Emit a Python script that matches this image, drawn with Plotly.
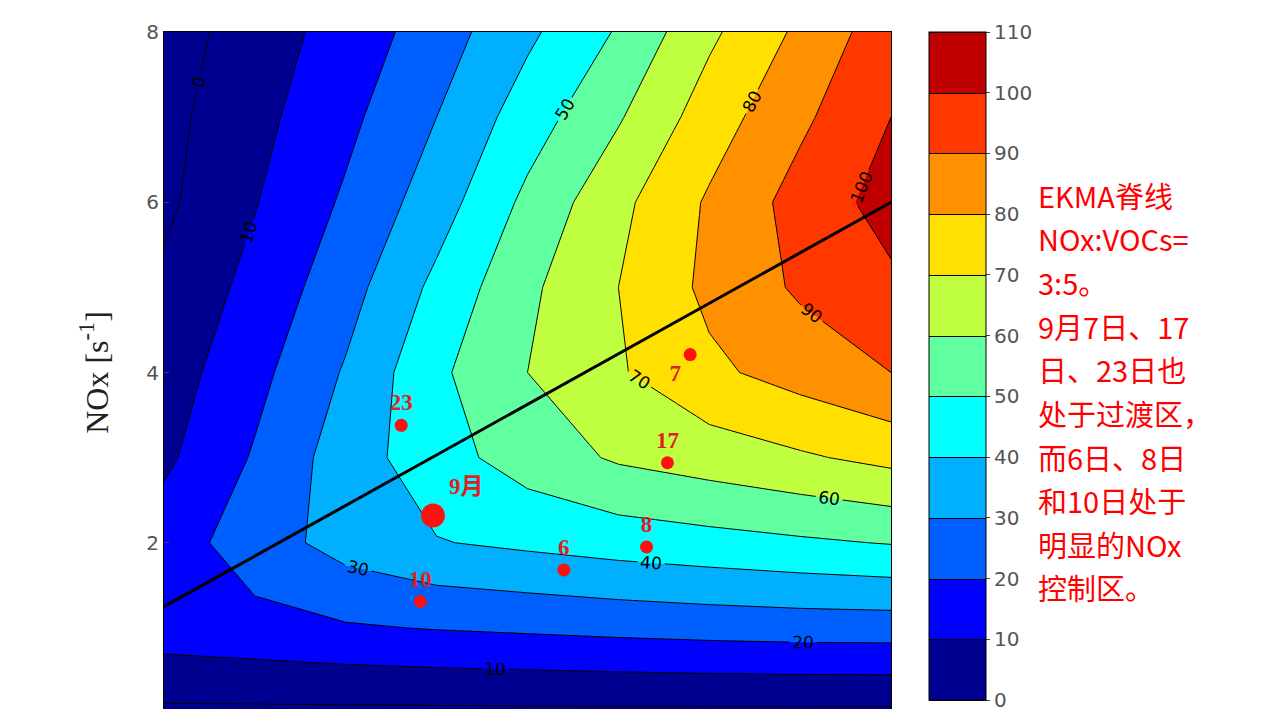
import plotly.graph_objects as go

voc = [0, 1, 2, 3, 4, 5, 6, 7, 8]
nox = [0, 1, 2, 3, 4, 5, 6, 7, 8]
o3 = [
    [-2, -2, -2, -2, -2, -2, -2, -2, -2],
    [15.3, 17, 19, 20.5, 21.6, 22.8, 23.8, 24.5, 24.7],
    [15, 25, 34, 39.5, 42, 44.5, 46.5, 48.5, 50.5],
    [8, 21, 35, 46, 54.6, 61.3, 64.9, 68.7, 72.8],
    [5, 17, 31, 48, 60, 69, 78, 84, 90],
    [2, 13, 26, 42.5, 58, 70, 82.3, 91.5, 98],
    [-2, 9.5, 21.4, 35.2, 52.4, 67.4, 81.3, 93.8, 104],
    [-3, 7, 17.5, 30, 45, 59, 75, 88, 100],
    [-5, 5, 14, 25, 38, 51, 68, 82, 96],
]
ridge_x = [0, 8]
ridge_y = [1.25, 6.0]
pt_x = [2.61, 2.82, 4.40, 5.31, 5.54, 5.79]
pt_y = [3.38, 1.31, 1.68, 1.95, 2.94, 4.21]
pt_lab = ["23", "10", "6", "8", "17", "7"]
sep_x = [2.96]
sep_y = [2.32]
sep_lab = ["9月"]
bins = ["#000090", "#0000FF", "#0060FF", "#00B0FF", "#00FFFF", "#60FFA0",
        "#C0FF40", "#FFE000", "#FF9000", "#FF3800", "#C00000"]
note_lines = ["EKMA脊线", "NOx:VOCs=", "3:5。", "9月7日、17", "日、23日也",
              "处于过渡区，", "而6日、8日", "和10日处于", "明显的NOx", "控制区。"]

cs = []
n = len(bins)
eps = 1e-6
for i, c in enumerate(bins):
    cs.append([i / n, c])
    cs.append([(i + 1) / n - (eps if i < n - 1 else 0), c])

fig = go.Figure()
fig.add_trace(go.Contour(
    x=voc, y=nox, z=o3, colorscale=cs, zmin=0, zmax=110,
    contours=dict(start=0, end=110, size=10, coloring="fill", showlabels=True,
                  labelfont=dict(size=17, color="black", family="DejaVu Sans")),
    line=dict(color="black", width=1, smoothing=0),
    colorbar=dict(x=1.052, xanchor="left", xpad=0, y=1.0, yanchor="top",
                  len=668, lenmode="pixels", ypad=0,
                  thickness=57, outlinecolor="black", outlinewidth=1,
                  tickvals=list(range(0, 111, 10)), ticks="outside", ticklen=4,
                  tickfont=dict(size=20, color="#555", family="DejaVu Sans")),
    hoverinfo="skip"))
fig.add_trace(go.Scatter(x=ridge_x, y=ridge_y, mode="lines",
                         line=dict(color="black", width=3), showlegend=False))
pos = ["top center", "top center", "top center", "top center", "top center", "bottom left"]
fig.add_trace(go.Scatter(x=pt_x, y=pt_y, mode="markers+text", text=["<b>%s</b>" % t for t in pt_lab],
                         textposition=pos,
                         textfont=dict(color="#E02020", size=23, family="Liberation Serif"),
                         marker=dict(color="#FF1010", size=13), showlegend=False))
fig.add_trace(go.Scatter(x=sep_x, y=sep_y, mode="markers+text", text=["<b>%s</b>" % t for t in sep_lab],
                         textposition="top right",
                         textfont=dict(color="#E02020", size=23, family="Liberation Serif, Noto Sans CJK SC"),
                         marker=dict(color="#FF1010", size=24), showlegend=False))
for i, t in enumerate(note_lines):
    fig.add_annotation(xref="paper", yref="y", x=1.2, xanchor="left",
                       y=(704 - (192 + i * 43.1)) / 84.1, yanchor="middle",
                       text=t, showarrow=False,
                       font=dict(color="#FF0000", size=29, family="Noto Sans CJK SC"))
fig.update_xaxes(range=[0, 8], showticklabels=False, ticks="", showgrid=False,
                 zeroline=False, showline=True, linecolor="black", mirror=True)
fig.update_yaxes(range=[0, 8], tickvals=[0, 2, 4, 6, 8], showgrid=False, zeroline=False,
                 showline=True, linecolor="black", mirror=True, ticks="inside",
                 tickfont=dict(size=20, color="#555", family="DejaVu Sans"),
                 title=dict(text="NOx [s<sup>-1</sup>]", standoff=28,
                            font=dict(size=32, family="Liberation Serif", color="#222")))
fig.update_layout(width=1261, height=709, margin=dict(l=156, r=378, t=24, b=4),
                  plot_bgcolor="white", paper_bgcolor="white", showlegend=False)
fig.write_html("out.html")
